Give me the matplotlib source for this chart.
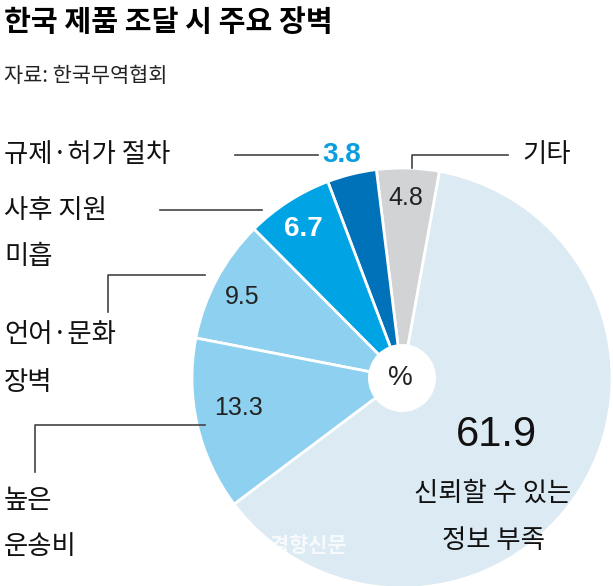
import matplotlib.pyplot as plt
from matplotlib.patches import Circle

KR = ['Noto Sans CJK KR', 'Noto Sans CJK JP', 'Noto Sans CJK SC', 'Noto Sans CJK TC', 'DejaVu Sans']
NUM = ['Liberation Sans Narrow', 'Liberation Sans', 'DejaVu Sans']
plt.rcParams['font.family'] = KR

values = [61.9, 4.8, 3.8, 6.7, 9.5, 13.3]
colors = ['#dceaf3', '#d2d3d4', '#0072b9', '#00a3e4', '#8dd0ef', '#8dd0ef']
value_labels = ['61.9', '4.8', '3.8', '6.7', '9.5', '13.3']

fig = plt.figure(figsize=(6.13, 5.86), dpi=100)
ax = fig.add_axes([0, 0, 1, 1])
H = 586

def Y(py):
    return H - py

ax.pie(values, colors=colors, startangle=-143.1, center=(402, Y(378)), radius=210,
       wedgeprops=dict(edgecolor='white', linewidth=2))
ax.add_patch(Circle((402, Y(378)), 34, facecolor='white', edgecolor='none', zorder=5))
ax.set_xlim(0, 613)
ax.set_ylim(0, 586)
ax.set_aspect('equal')
ax.axis('off')

ax.text(4, Y(22), '한국 제품 조달 시 주요 장벽', fontfamily=KR, fontweight='bold',
        fontsize=21, va='center', ha='left')
ax.text(4, Y(76), '자료: 한국무역협회', fontfamily=KR, fontsize=15, va='center', color='#222222')

lab = dict(fontfamily=KR, fontsize=19, va='center', ha='left', color='#111111')
ax.text(4, Y(155), '규제·허가 절차', **lab)
ax.text(4, Y(210), '사후 지원', **lab)
ax.text(4, Y(256), '미흡', **lab)
ax.text(4, Y(335), '언어·문화', **lab)
ax.text(4, Y(382), '장벽', **lab)
ax.text(4, Y(500), '높은', **lab)
ax.text(4, Y(546), '운송비', **lab)
ax.text(522, Y(155), '기타', **lab)

lc = '#444444'
ax.plot([235, 318], [Y(155), Y(155)], color=lc, lw=1.2)
ax.plot([412, 412, 508], [Y(168), Y(155), Y(155)], color=lc, lw=1.2)
ax.plot([160, 262], [Y(210), Y(210)], color=lc, lw=1.2)
ax.plot([108, 108, 205], [Y(312), Y(275), Y(275)], color=lc, lw=1.2)
ax.plot([35, 35, 205], [Y(472), Y(425), Y(425)], color=lc, lw=1.2)

num = dict(fontfamily=NUM, va='center', ha='center', zorder=6)
ax.text(342, Y(155), value_labels[2], fontsize=20, fontweight='bold', color='#0a9ee0', **num)
ax.text(406, Y(198), value_labels[1], fontsize=18, color='#222222', **num)
ax.text(303, Y(229), value_labels[3], fontsize=20, fontweight='bold', color='white', **num)
ax.text(242, Y(297), value_labels[4], fontsize=18, color='#222222', **num)
ax.text(238, Y(408), value_labels[5], fontsize=18, color='#222222', **num)
ax.text(496, Y(435), value_labels[0], fontsize=30, color='#111111', **num)
ax.text(400, Y(378), '%', fontsize=20, color='#222222', **num)

ax.text(493, Y(493), '신뢰할 수 있는', fontfamily=KR, fontsize=19, ha='center', va='center', color='#111111')
ax.text(493, Y(541), '정보 부족', fontfamily=KR, fontsize=19, ha='center', va='center', color='#111111')
ax.text(308, Y(546), '경향신문', fontfamily=KR, fontsize=15, fontweight='bold', ha='center',
        va='center', color='white', alpha=0.8)

fig.savefig('out.png', dpi=100)
